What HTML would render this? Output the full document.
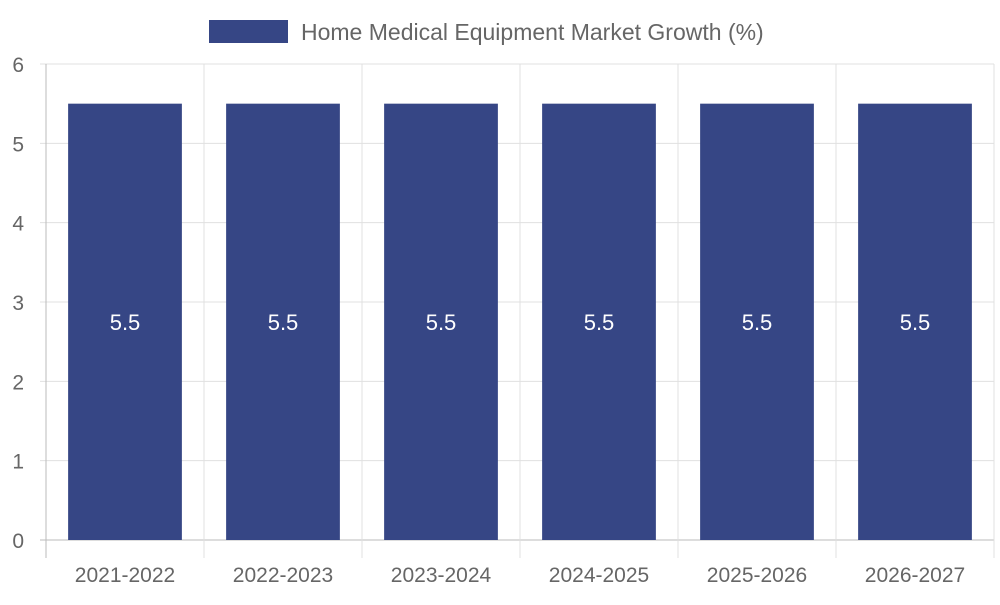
<!DOCTYPE html>
<html><head><meta charset="utf-8"><style>
body{margin:0;background:#fff;width:1000px;height:600px;overflow:hidden;font-family:"Liberation Sans",sans-serif}
</style></head><body>
<svg id="chart" width="1000" height="600" xmlns="http://www.w3.org/2000/svg">
<g id="legend">
<rect x="209" y="20" width="79" height="23" fill="#364685"/>
<text x="301" y="40" font-size="23" fill="#666">Home Medical Equipment Market Growth (%)</text>
</g>
<g id="grid"></g><g id="bars"></g><g id="labels"></g>
</svg>
<script>
const categories=["2021-2022","2022-2023","2023-2024","2024-2025","2025-2026","2026-2027"];
const values=[5.5,5.5,5.5,5.5,5.5,5.5];
const yTicks=[0,1,2,3,4,5,6];
const NS="http://www.w3.org/2000/svg";
const L=46,R=994,T=64,B=540,yMax=6;
const y=v=>B-(v/yMax)*(B-T);
const cw=(R-L)/categories.length;
const x=i=>L+cw*i;
function mk(tag,attrs,parent,text){const e=document.createElementNS(NS,tag);for(const k in attrs)e.setAttribute(k,attrs[k]);if(text!==undefined)e.textContent=text;document.getElementById(parent).appendChild(e);return e;}
yTicks.forEach(t=>{
 const g=mk('line',{x1:40,x2:R,y1:y(t),y2:y(t),stroke:t===0?'#bbb':'#e0e0e0','stroke-width':1},'grid');
 
 
 const lb=mk('text',{x:24,y:y(t)+8,'font-size':21,fill:'#666','text-anchor':'end'},'labels',t);
 
 
});
for(let i=0;i<=categories.length;i++){
 const g=mk('line',{x1:x(i),x2:x(i),y1:T,y2:558,stroke:i===0?'#bbb':'#e0e0e0','stroke-width':1},'grid');
 
 
}
categories.forEach((c,i)=>{
 const bw=cw*0.72,bx=x(i)+(cw-bw)/2;
 const r=mk('rect',{x:bx,y:y(values[i]),width:bw,height:B-y(values[i]),fill:'#364685'},'bars');
 
 
 const v=mk('text',{x:x(i)+cw/2,y:(y(values[i])+B)/2+8,'font-size':22,fill:'#fff','text-anchor':'middle'},'labels',values[i]);
 
 
 const xl=mk('text',{x:x(i)+cw/2,y:582,'font-size':21,fill:'#666','text-anchor':'middle'},'labels',c);
 
 
});
</script>
</body></html>
